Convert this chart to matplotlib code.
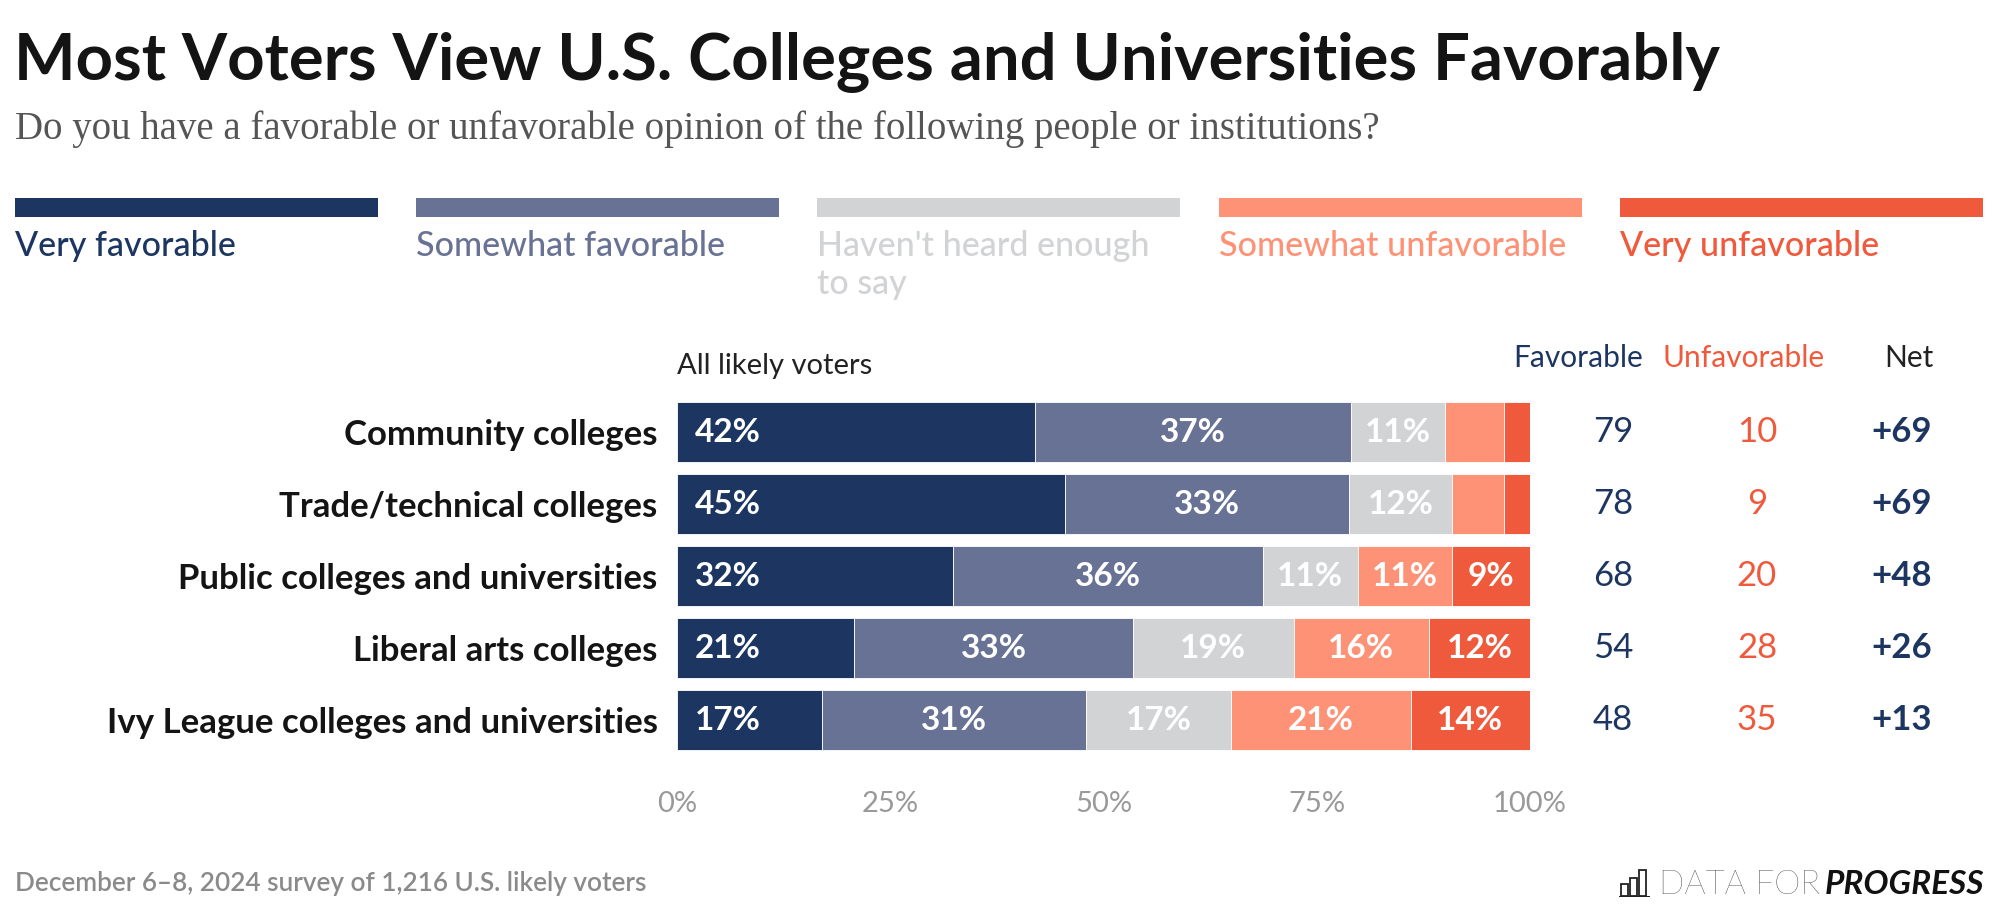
import matplotlib
matplotlib.use("Agg")
import matplotlib.pyplot as plt
from matplotlib.patches import Rectangle
import numpy as np

plt.rcParams['font.family'] = ['Lato', 'DejaVu Sans']

# ---------------- data ----------------
categories = ["Community colleges", "Trade/technical colleges",
              "Public colleges and universities", "Liberal arts colleges",
              "Ivy League colleges and universities"]
series_names = ["Very favorable", "Somewhat favorable",
                "Haven't heard enough\nto say", "Somewhat unfavorable",
                "Very unfavorable"]
very_fav = [42, 45, 32, 21, 17]
somewhat_fav = [37, 33, 36, 33, 31]
not_heard = [11, 12, 11, 19, 17]
somewhat_unf = [7, 6, 11, 16, 21]
very_unf = [3, 3, 9, 12, 14]
favorable = [79, 78, 68, 54, 48]
unfavorable = [10, 9, 20, 28, 35]
net = [69, 69, 48, 26, 13]
xticks = [0, 25, 50, 75, 100]
xtick_labels = ["0%", "25%", "50%", "75%", "100%"]

colors = ["#1d3661", "#687294", "#d2d3d5", "#fe9276", "#f05a3c"]
NAVY = "#1d3661"
RED = "#f05a3c"

W, H = 1999, 915
fig = plt.figure(figsize=(W / 100, H / 100), dpi=100)
fx = lambda px: px / W
fy = lambda py: 1 - py / H

# title / subtitle
fig.text(fx(14), fy(80), "Most Voters View U.S. Colleges and Universities Favorably",
         fontsize=47, fontweight='bold', color="#141414", va='baseline', ha='left')
fig.text(fx(15), fy(139), "Do you have a favorable or unfavorable opinion of the following people or institutions?",
         fontsize=28, family=['Liberation Serif'], color="#555555", va='baseline', ha='left')

# legend
for i, (name, c) in enumerate(zip(series_names, colors)):
    left = 15 + i * 401.2
    fig.patches.append(Rectangle((fx(left), fy(217)), fx(363), 19 / H,
                                 transform=fig.transFigure, color=c, lw=0))
    fig.text(fx(left), fy(230), name, fontsize=24.5, color=c, ha='left',
             va='top', linespacing=1.25, fontweight='medium')

# main axes
ax = fig.add_axes([fx(677), fy(756), fx(1530) - fx(677), 360 / H])
data = np.array([very_fav, somewhat_fav, not_heard, somewhat_unf, very_unf], dtype=float)
norm = data / data.sum(axis=0) * 100
y = np.arange(len(categories))
lefts = np.zeros(len(categories))
for k in range(len(series_names)):
    ax.barh(y, norm[k], left=lefts, height=0.83, color=colors[k],
            edgecolor='white', linewidth=0.6)
    for r in range(len(categories)):
        v = data[k, r]
        if v >= 8:
            if k == 0:
                ax.text(lefts[r] + 2.1, y[r], f"{int(v)}%", ha='left', va='center',
                        color='white', fontsize=24, fontweight='bold')
            else:
                ax.text(lefts[r] + norm[k, r] / 2, y[r], f"{int(v)}%", ha='center',
                        va='center', color='white', fontsize=24, fontweight='bold')
    lefts += norm[k]

ax.set_xlim(0, 100)
ax.set_ylim(len(categories) - 0.5, -0.5)
ax.set_yticks(y)
ax.set_yticklabels(categories, fontsize=25, fontweight='bold', color="#141414")
ax.tick_params(axis='y', length=0, pad=14)
ax.set_xticks(xticks)
ax.set_xticklabels(xtick_labels, fontsize=21, color="#999999")
ax.tick_params(axis='x', length=0, pad=25)
for s in ax.spines.values():
    s.set_visible(False)

ax.text(0, -0.74, "All likely voters", fontsize=21,
        color="#222222", ha='left', va='bottom')

# right columns
fig.text(fx(1578), fy(367), "Favorable", fontsize=21.5, color=NAVY, ha='center', va='baseline')
fig.text(fx(1744), fy(367), "Unfavorable", fontsize=21.5, color=RED, ha='center', va='baseline')
fig.text(fx(1909), fy(367), "Net", fontsize=21.5, color="#222222", ha='center', va='baseline')
for r in range(len(categories)):
    ax.annotate(f"{favorable[r]}", xy=(1, y[r]), xycoords=('axes fraction', 'data'),
                xytext=(1613 - 1530, 0), textcoords='offset pixels',
                ha='center', va='center', fontsize=25, color=NAVY)
    ax.annotate(f"{unfavorable[r]}", xy=(1, y[r]), xycoords=('axes fraction', 'data'),
                xytext=(1757 - 1530, 0), textcoords='offset pixels',
                ha='center', va='center', fontsize=25, color=RED)
    ax.annotate(f"{net[r]:+d}", xy=(1, y[r]), xycoords=('axes fraction', 'data'),
                xytext=(1902 - 1530, 0), textcoords='offset pixels',
                ha='center', va='center', fontsize=25, color=NAVY, fontweight='bold')

# footer
fig.text(fx(15), fy(891), "December 6\u20138, 2024 survey of 1,216 U.S. likely voters",
         fontsize=18.8, color="#8a8a8a", fontweight='semibold', ha='left', va='baseline')

t2 = fig.text(fx(1984), fy(894), "PROGRESS", fontsize=24, fontweight='bold',
              style='italic', color="#111111", ha='right', va='baseline')
r = fig.canvas.get_renderer()
bb = t2.get_window_extent(renderer=r)
t1 = fig.text(bb.x0 / W - fx(4), fy(894), "DATA FOR", fontsize=24, fontweight='light',
              color="#111111", ha='right', va='baseline')
bb1 = t1.get_window_extent(renderer=r)
ix = bb1.x0 - 38
for dx, h in [(0, 12), (9, 18), (18, 26)]:
    fig.patches.append(Rectangle(((ix + dx) / W, fy(896)), 7 / W, h / H,
                                 transform=fig.transFigure, fill=False,
                                 edgecolor="#222222", lw=1.3))
fig.patches.append(Rectangle((ix / W - 2 / W, fy(897)), 31 / W, 1.5 / H,
                             transform=fig.transFigure, color="#222222", lw=0))

fig.savefig("out.png", dpi=100, facecolor='white')
